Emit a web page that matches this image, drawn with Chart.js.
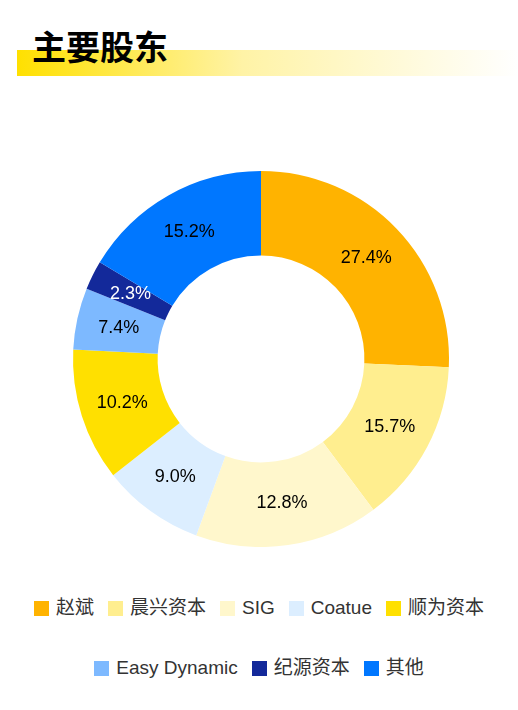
<!DOCTYPE html>
<html>
<head>
<meta charset="utf-8">
<script src="https://cdn.jsdelivr.net/npm/chart.js@4/dist/chart.umd.min.js"></script>
<style>
  html, body { margin: 0; padding: 0; background: #fff; }
  body { width: 518px; height: 710px; position: relative; overflow: hidden;
         font-family: "Liberation Sans", "Noto Sans CJK SC", sans-serif; }
  .bar { position: absolute; left: 17px; top: 50px; width: 501px; height: 26px;
         background: linear-gradient(to right, #FFE000 0%, #FFF3A6 45%, #FFFFFF 100%); }
  .title { position: absolute; left: 32px; top: 23px; font-size: 34px; font-weight: 700;
           font-family: "Noto Sans CJK SC", sans-serif; color: #000; line-height: 46px; }
  .chart-box { position: absolute; left: 0; top: 171px; width: 518px; height: 376px; }
  #legend { position: absolute; left: 0; top: 597px; width: 518px; display: flex; flex-wrap: wrap;
            justify-content: center; column-gap: 14px; row-gap: 38px; padding: 0 20px; box-sizing: border-box; }
  .item { display: flex; align-items: center; font-size: 19px; color: #333; line-height: 22px; }
  .swatch { width: 15px; height: 15px; margin-right: 7px; }
</style>
</head>
<body>
<div class="bar"></div>
<div class="title">主要股东</div>
<div class="chart-box"><canvas id="shareChart"></canvas></div>
<div id="legend"></div>
<script>
var labels = ['赵斌', '晨兴资本', 'SIG', 'Coatue', '顺为资本', 'Easy Dynamic', '纪源资本', '其他'];
// slice sizes as drawn in the picture (measured from the arc angles)
var shares = [25.7, 14.1, 15.8, 8.8, 11.4, 5.3, 2.5, 16.4];
// percentages printed on the slices
var shareLabels = ['27.4%', '15.7%', '12.8%', '9.0%', '10.2%', '7.4%', '2.3%', '15.2%'];
var colors = ['#FFB300', '#FFEE8F', '#FFF7CC', '#DCEEFF', '#FFE000', '#7DB9FF', '#13299A', '#0077FF'];
var labelColors = ['#000', '#000', '#000', '#000', '#000', '#000', '#fff', '#000'];

// draw the percent text in the middle of each slice
var sliceLabels = {
    id: 'sliceLabels',
    afterDatasetsDraw: function (chart) {
        var ctx = chart.ctx;
        var meta = chart.getDatasetMeta(0);
        ctx.save();
        ctx.font = '18px "Liberation Sans", sans-serif';
        ctx.textAlign = 'center';
        ctx.textBaseline = 'middle';
        meta.data.forEach(function (arc, i) {
            var p = arc.tooltipPosition();
            ctx.fillStyle = labelColors[i];
            ctx.fillText(shareLabels[i], p.x, p.y);
        });
        ctx.restore();
    }
};

var ctx = document.getElementById('shareChart').getContext('2d');
var shareChart = new Chart(ctx, {
    type: 'doughnut',
    data: {
        labels: labels,
        datasets: [{
            data: shares,
            backgroundColor: colors,
            borderWidth: 0
        }]
    },
    options: {
        responsive: true,
        maintainAspectRatio: false,
        animation: false,
        cutout: '55%',
        layout: { padding: { left: 4 } },
        plugins: {
            legend: { display: false },
            tooltip: { enabled: false }
        }
    },
    plugins: [sliceLabels]
});

// html legend built from the same arrays
var legend = document.getElementById('legend');
labels.forEach(function (name, i) {
    var item = document.createElement('div');
    item.className = 'item';
    var sw = document.createElement('span');
    sw.className = 'swatch';
    sw.style.background = colors[i];
    var txt = document.createElement('span');
    txt.textContent = name;
    item.appendChild(sw);
    item.appendChild(txt);
    legend.appendChild(item);
});
</script>
</body>
</html>
